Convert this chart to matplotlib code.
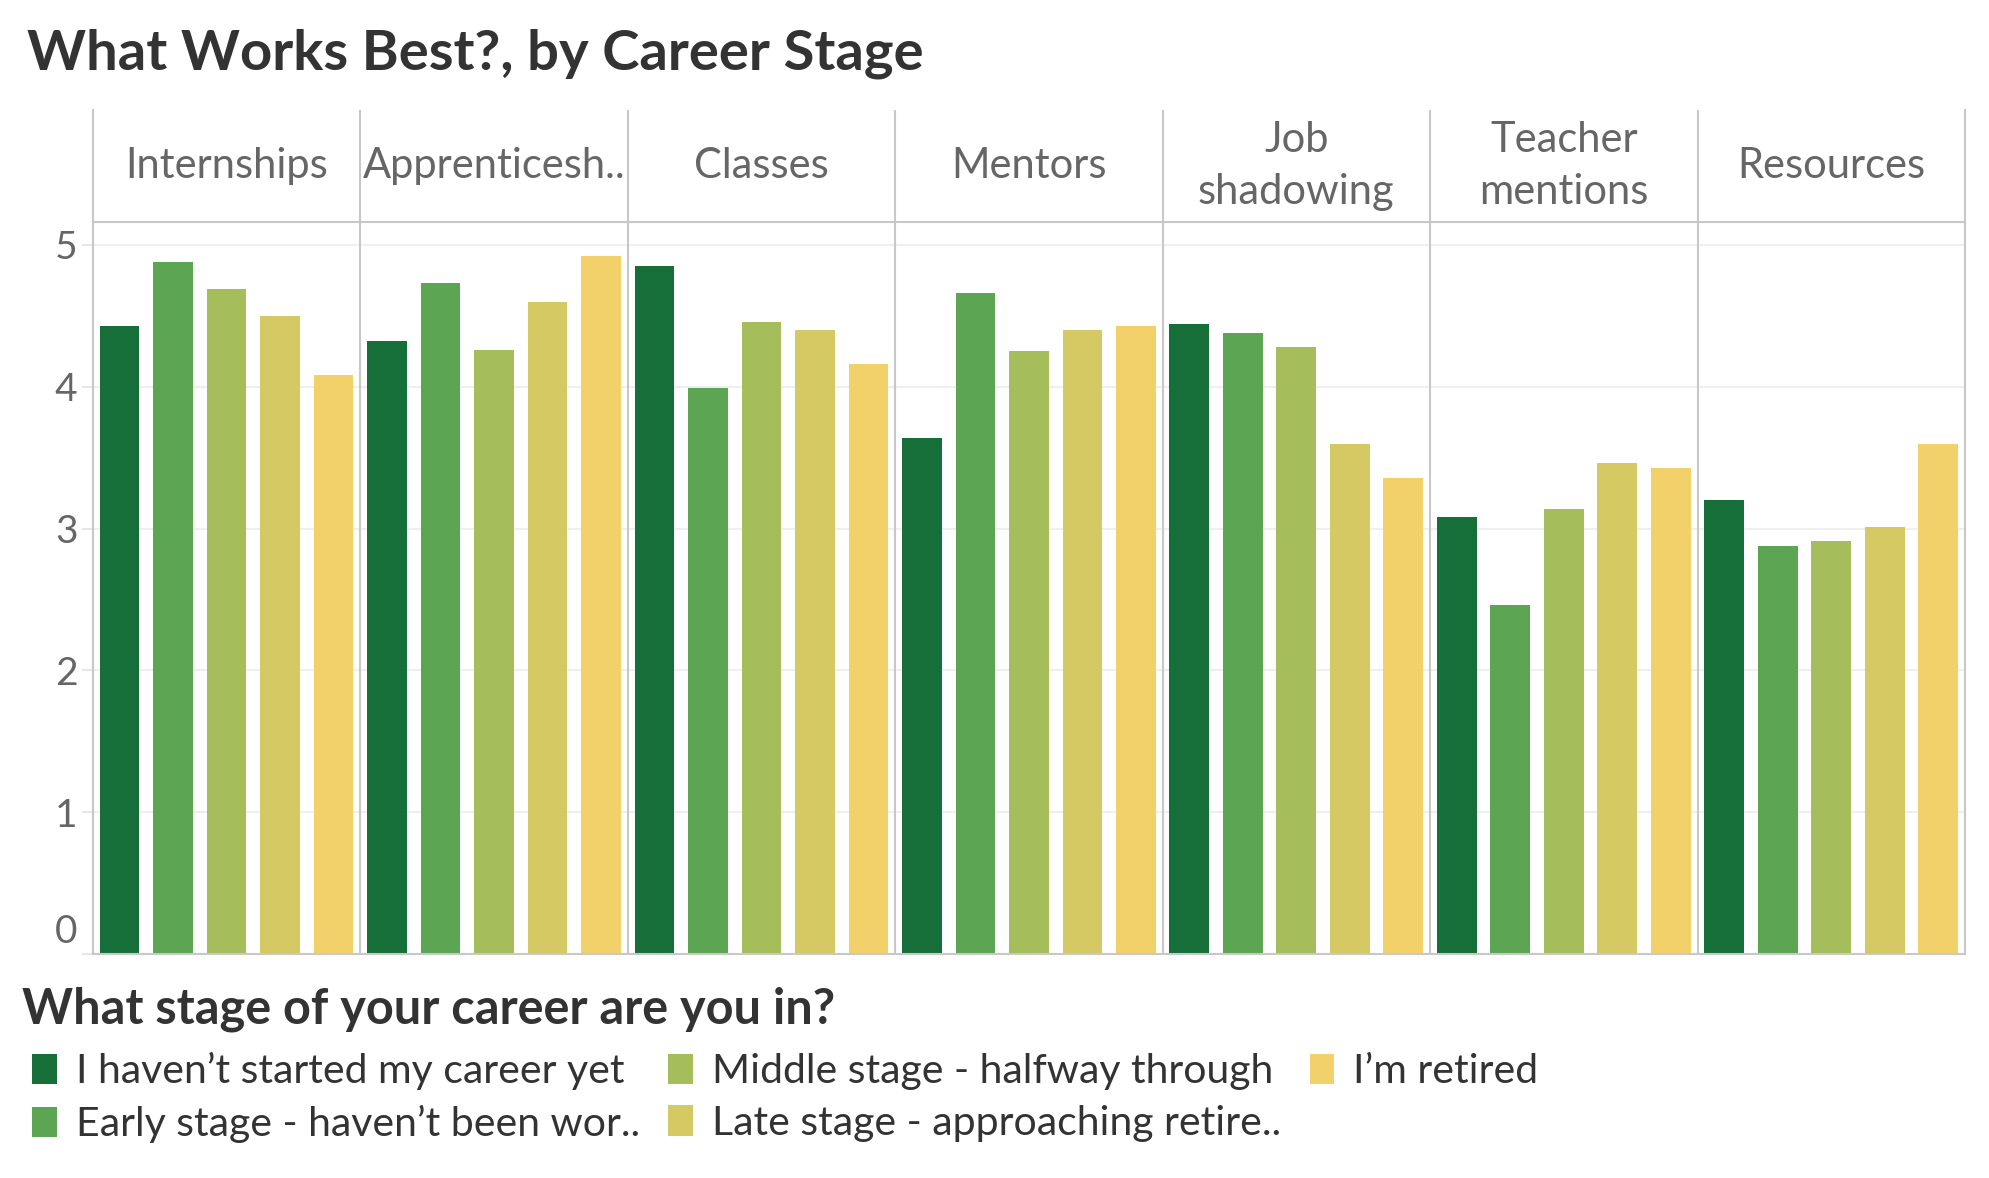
import matplotlib.pyplot as plt
from matplotlib.patches import Patch
from matplotlib.transforms import ScaledTranslation

# categories (panels) and career stages (bar colours)
methods = ["Internships", "Apprenticesh..", "Classes", "Mentors",
           "Job\nshadowing", "Teacher\nmentions", "Resources"]
stages = ["I haven’t started my career yet",
          "Early stage - haven’t been wor..",
          "Middle stage - halfway through",
          "Late stage - approaching retire..",
          "I’m retired"]

# average score per method, one list per career stage
not_started = [4.43, 4.32, 4.85, 3.64, 4.44, 3.08, 3.20]
early = [4.88, 4.73, 3.99, 4.66, 4.38, 2.46, 2.88]
middle = [4.69, 4.26, 4.46, 4.25, 4.28, 3.14, 2.91]
late = [4.50, 4.60, 4.40, 4.40, 3.60, 3.46, 3.01]
retired = [4.08, 4.92, 4.16, 4.43, 3.36, 3.43, 3.60]
series = [not_started, early, middle, late, retired]

colors = ["#166e38", "#5ca553", "#a5bd5b", "#d4c962", "#f2d16b"]
line_c = "#c8c8c8"

plt.rcParams['font.family'] = ['Lato', 'DejaVu Sans']

fig = plt.figure(figsize=(19.9, 11.78), dpi=100)
W, H = 1990, 1178
x0, x1 = 92.6, 1965
ax = fig.add_axes([x0 / W, 1 - 954 / H, (x1 - x0) / W, (954 - 222) / H])
hx = fig.add_axes([x0 / W, 1 - 222 / H, (x1 - x0) / W, (222 - 110) / H])

n = len(stages)
for j, vals in enumerate(series):
    xs = [i * n + j for i in range(len(methods))]
    ax.bar(xs, vals, width=0.74, color=colors[j], zorder=2)

ax.set_xlim(-0.5, len(methods) * n - 0.5)
ax.set_ylim(0, 5.162)
ax.set_yticks(range(6))
ax.set_xticks([])
ax.tick_params(axis='y', colors="#e6e6e6", length=8, width=1.5,
               labelcolor="#666666", labelsize=28, pad=3)
# tableau lifts the zero label above the axis line
lbl0 = ax.get_yticklabels()[0]
lbl0.set_verticalalignment('bottom')
lbl0.set_transform(lbl0.get_transform() + ScaledTranslation(0, 0.04, fig.dpi_scale_trans))
ax.grid(axis='y', color="#efefef", linewidth=1.5, zorder=0)
ax.set_axisbelow(True)
for s in ['left', 'right', 'bottom']:
    ax.spines[s].set_color(line_c)
    ax.spines[s].set_linewidth(1.5)
ax.spines['top'].set_visible(False)

# header strip with method names
hx.set_xlim(ax.get_xlim())
hx.set_ylim(0, 1)
hx.set_xticks([])
hx.set_yticks([])
hx.spines['top'].set_visible(False)
for s in ['left', 'right', 'bottom']:
    hx.spines[s].set_color(line_c)
    hx.spines[s].set_linewidth(1.5)

for i, m in enumerate(methods):
    hx.text(i * n + (n - 1) / 2, 0.5, m, ha='center', va='center',
            fontsize=30, color="#666666", linespacing=1.45)
    if i > 0:
        for a in (ax, hx):
            a.axvline(i * n - 0.5, color=line_c, linewidth=1.5, zorder=3)

fig.text(27 / W, 1 - 54 / H, "What Works Best?, by Career Stage",
         fontsize=40.5, fontweight='bold', color="#333333", va='center')

fig.text(22 / W, 1 - 1009 / H, "What stage of your career are you in?",
         fontsize=35, fontweight='bold', color="#333333", va='center')

handles = [Patch(facecolor=c, edgecolor='none') for c in colors]
fig.legend(handles, stages, ncol=3, loc='upper left',
           bbox_to_anchor=(28 / W, 1 - 1048 / H), frameon=False,
           fontsize=29.5, labelcolor="#333333", handlelength=0.6,
           handleheight=0.78, handletextpad=0.46, columnspacing=0.7,
           labelspacing=0.36, borderaxespad=0, borderpad=0.1)

fig.savefig("out.png", dpi=100)
